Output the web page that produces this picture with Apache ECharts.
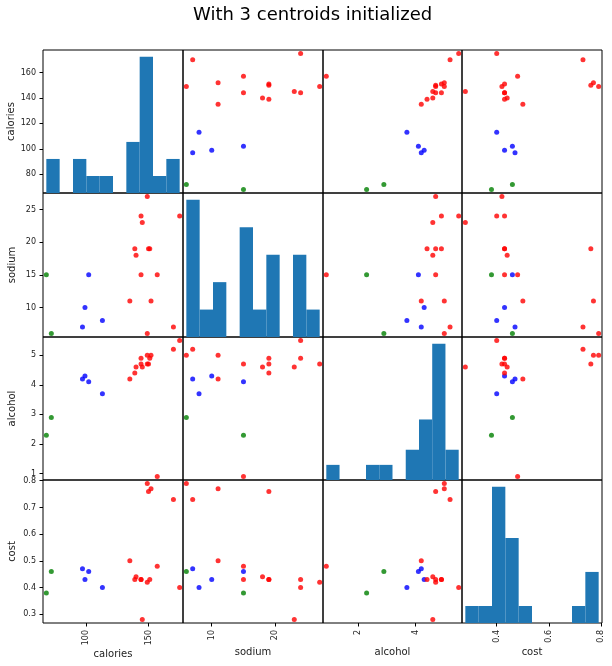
<!DOCTYPE html>
<html>
<head>
<meta charset="utf-8">
<script src="https://cdn.jsdelivr.net/npm/echarts@6/dist/echarts.min.js"></script>
<style>
html,body{margin:0;padding:0;background:#fff;}
#chart{width:612px;height:666px;}
</style>
</head>
<body>
<div id="chart"></div>
<script>
// ---- data (beer dataset, 20 beers) ----
const varNames = ['calories', 'sodium', 'alcohol', 'cost'];
const calories = [144,151,157,170,152,145,175,149,99,113,140,102,135,150,149,68,139,144,72,97];
const sodium   = [15,19,15,7,11,23,24,27,10,8,18,15,11,19,6,15,19,24,6,7];
const alcohol  = [4.7,4.9,0.9,5.2,5.0,4.6,5.5,4.7,4.3,3.7,4.6,4.1,4.2,4.7,5.0,2.3,4.4,4.9,2.9,4.2];
const cost     = [0.43,0.43,0.48,0.73,0.77,0.28,0.40,0.42,0.43,0.40,0.44,0.46,0.50,0.76,0.79,0.38,0.43,0.43,0.46,0.47];
const cluster  = [0,0,0,0,0,0,0,0,1,1,0,1,0,0,0,2,0,0,2,1];

// histogram counts (10 bins each, between data min and max)
const histCalories = [2,0,2,1,1,0,3,8,1,2];
const histSodium   = [5,1,2,0,4,1,3,0,3,1];
const histAlcohol  = [1,0,0,1,1,0,2,4,9,2];
const histCost     = [1,1,8,5,1,0,0,0,1,3];

// tick labels
const xTicksCalories = [100, 150];
const xTicksSodium   = [10, 20];
const xTicksAlcohol  = [2, 4];
const xTicksCost     = [0.4, 0.6, 0.8];
const yTicksCalories = [80, 100, 120, 140, 160];
const yTicksSodium   = [10, 15, 20, 25];
const yTicksAlcohol  = [1, 2, 3, 4, 5];
const yTicksCost     = [0.3, 0.4, 0.5, 0.6, 0.7, 0.8];

const titleText = 'With 3 centroids initialized';
const clusterColors = ['#ff0000', '#0000ff', '#008000'];

// ---- build ----
const vars = [calories, sodium, alcohol, cost];
const hists = [histCalories, histSodium, histAlcohol, histCost];
const xTicks = [xTicksCalories, xTicksSodium, xTicksAlcohol, xTicksCost];
const yTicks = [yTicksCalories, yTicksSodium, yTicksAlcohol, yTicksCost];
const fmt = [v => String(v), v => String(v), v => String(v), v => v.toFixed(1)];

const lims = vars.map(a => {
  const mn = Math.min(...a), mx = Math.max(...a);
  const pad = (mx - mn) * 0.05 / 2;
  return [mn - pad, mx + pad];
});

const xEdges = [43, 183, 323, 462, 602];
const yEdges = [50, 193, 337, 480, 623];
const FONT = 'DejaVu Sans';

const grids = [], xAxes = [], yAxes = [], series = [];

for (let r = 0; r < 4; r++) {
  for (let c = 0; c < 4; c++) {
    const g = grids.length;
    grids.push({
      left: xEdges[c], top: yEdges[r],
      width: xEdges[c + 1] - xEdges[c], height: yEdges[r + 1] - yEdges[r],
      show: true, borderColor: '#000', borderWidth: 1, backgroundColor: 'transparent',
      containLabel: false
    });
    const bottom = r === 3, left = c === 0;
    const xi = xAxes.length;
    xAxes.push({
      type: 'value', gridIndex: g, min: lims[c][0], max: lims[c][1],
      show: true,
      axisLine: { show: false },
      splitLine: { show: false },
      axisTick: { show: bottom, inside: false, length: 3.5, lineStyle: { color: '#000', width: 1 }, customValues: xTicks[c] },
      axisLabel: { show: bottom, rotate: 90, margin: 7, fontSize: 8, color: '#222', fontFamily: FONT,
        customValues: xTicks[c], formatter: v => fmt[c](v) },
      name: bottom ? varNames[c] : '', nameLocation: 'middle', nameGap: 24,
      nameTextStyle: { fontSize: 10, color: '#222', fontFamily: FONT }
    });
    const yi = yAxes.length;
    yAxes.push({
      type: 'value', gridIndex: g, min: lims[r][0], max: lims[r][1],
      show: true,
      axisLine: { show: false },
      splitLine: { show: false },
      axisTick: { show: left, inside: false, length: 3.5, lineStyle: { color: '#000', width: 1 }, customValues: yTicks[r] },
      axisLabel: { show: left, margin: 7, fontSize: 8, color: '#222', fontFamily: FONT,
        customValues: yTicks[r], formatter: v => fmt[r](v) },
      name: left ? varNames[r] : '', nameLocation: 'middle', nameGap: 26,
      nameTextStyle: { fontSize: 10, color: '#222', fontFamily: FONT }
    });
    if (r === c) {
      const counts = hists[r];
      const mn = Math.min(...vars[r]), mx = Math.max(...vars[r]);
      const w = (mx - mn) / counts.length;
      const ci = yAxes.length;
      yAxes.push({
        type: 'value', gridIndex: g, min: 0, max: Math.max(...counts) * 1.05, show: false,
        splitLine: { show: false }
      });
      series.push({
        type: 'custom', xAxisIndex: xi, yAxisIndex: ci, clip: false, silent: true,
        encode: { x: [0, 1], y: 2 },
        data: counts.map((n, k) => [mn + k * w, mn + (k + 1) * w, n]),
        renderItem: (params, api) => {
          const p0 = api.coord([api.value(0), 0]);
          const p1 = api.coord([api.value(1), api.value(2)]);
          return { type: 'rect',
            shape: { x: p0[0], y: p1[1], width: p1[0] - p0[0], height: p0[1] - p1[1] },
            style: { fill: '#1f77b4' } };
        }
      });
    } else {
      series.push({
        type: 'scatter', xAxisIndex: xi, yAxisIndex: yi, clip: false, silent: true,
        symbol: 'circle', symbolSize: 5,
        data: vars[c].map((v, i) => [v, vars[r][i], cluster[i]]),
        itemStyle: { opacity: 0.8, color: p => clusterColors[p.value[2]] }
      });
    }
  }
}

const chart = echarts.init(document.getElementById('chart'), null, { renderer: 'canvas' });
chart.setOption({
  animation: false,
  backgroundColor: '#fff',
  title: { text: titleText, left: 188, top: 1,
    textStyle: { fontSize: 18, fontWeight: 'normal', color: '#000', fontFamily: FONT } },
  grid: grids, xAxis: xAxes, yAxis: yAxes, series: series
});
</script>
</body>
</html>
